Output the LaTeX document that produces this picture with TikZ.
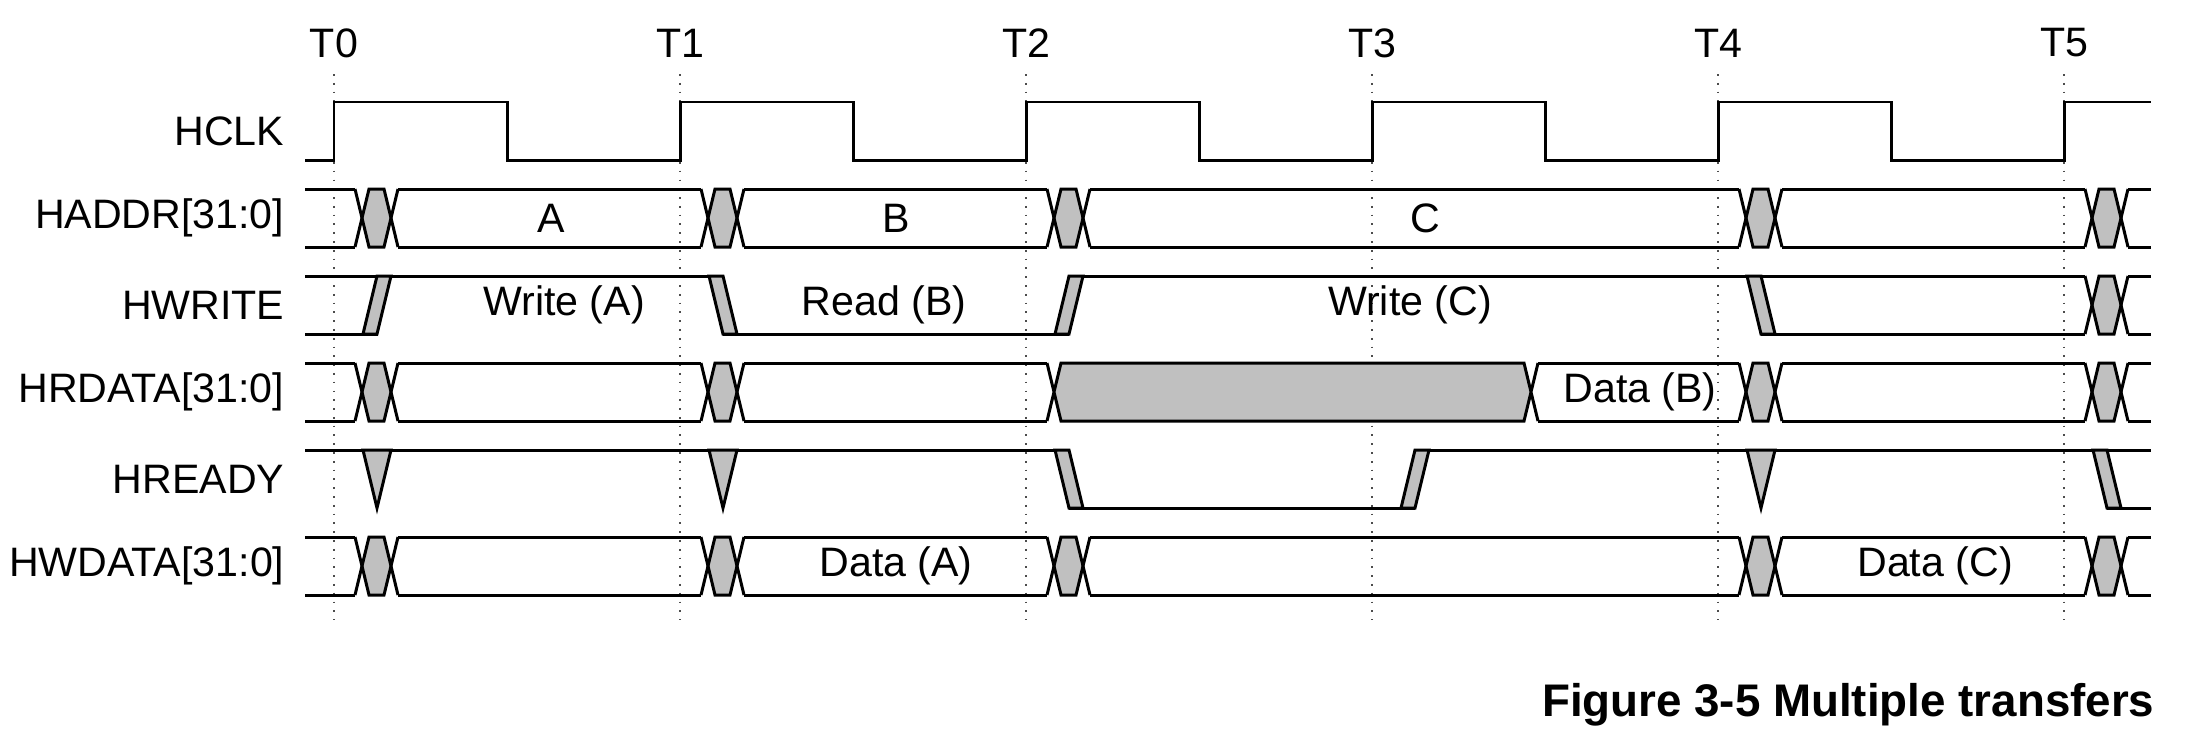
\documentclass[tikz,border=0pt]{standalone}
\usepackage{fontspec}
\setmainfont{Liberation Sans}
\definecolor{gr}{HTML}{C0C0C0}
% bus X transition at time #1, row top #2
\newcommand\tdX[2]{%
 \fill[gr] ({#1+28},{#2+29})--({#1+35},#2)--({#1+50},#2)--({#1+57},{#2+29})--({#1+50},{#2+58})--({#1+35},{#2+58})--cycle;
 \draw[sig] ({#1+21},#2)--({#1+35},{#2+58})--({#1+50},{#2+58})--({#1+64},#2);
 \draw[sig] ({#1+21},{#2+58})--({#1+35},#2)--({#1+50},#2)--({#1+64},{#2+58});}
% bus segment from #1 to #2, row top #3
\newcommand\tdB[3]{\draw[sig] (#1,#3)--(#2,#3) (#1,{#3+58})--(#2,{#3+58});}
% rising / falling slope, triangle
\newcommand\tdR[2]{\filldraw[sig,fill=gr] ({#1+29},{#2+58})--({#1+43},{#2+58})--({#1+57},#2)--({#1+43},#2)--cycle;}
\newcommand\tdF[2]{\filldraw[sig,fill=gr] ({#1+29},#2)--({#1+43},#2)--({#1+57},{#2+58})--({#1+43},{#2+58})--cycle;}
\newcommand\tdV[2]{\filldraw[sig,fill=gr] ({#1+29},#2)--({#1+57},#2)--({#1+43},{#2+58})--cycle;}
\begin{document}
\begin{tikzpicture}[x=0.01cm,y=-0.01cm,
 sig/.style={line width=0.85pt,line join=miter},
 lab/.style={font=\fontsize{11.7}{13}\selectfont,inner sep=0pt},
 grid/.style={dotted,line width=0.5pt,black!70}]
\useasboundingbox (0,0) rectangle (2203,730);
% time marks
\foreach \t/\n in {334/T0,680/T1,1026/T2,1372/T3,1718/T4,2064/T5}{
 \node[lab] (\n) at (\t,43) {\n};
 \draw[grid] (\t,74)--(\t,620);}
% row labels
\node[lab,anchor=east] (lclk) at (285,131) {HCLK};
\node[lab,anchor=east] (laddr) at (285,218) {HADDR[31:0]};
\node[lab,anchor=east] (lwrite) at (285,305) {HWRITE};
\node[lab,anchor=east] (lrdata) at (285,392) {HRDATA[31:0]};
\node[lab,anchor=east] (lready) at (285,479) {HREADY};
\node[lab,anchor=east] (lwdata) at (285,566) {HWDATA[31:0]};
% HCLK
\draw[sig] (305,160) \foreach \t in {334,680,1026,1372,1718}{--(\t,160)--(\t,102)--({\t+173},102)--({\t+173},160)} --(2064,160)--(2064,102)--(2151,102);
% HADDR
\tdB{305}{355}{189}\tdX{334}{189}\tdB{398}{701}{189}\tdX{680}{189}\tdB{744}{1047}{189}\tdX{1026}{189}
\tdB{1090}{1739}{189}\tdX{1718}{189}\tdB{1782}{2085}{189}\tdX{2064}{189}\tdB{2128}{2151}{189}
\node[lab] (a) at (551,218) {A};
\node[lab] (b) at (896,218) {B};
\node[lab] (c) at (1425,218) {C};
% HWRITE
\draw[sig] (305,276)--(723,276) (305,334)--(378,334) (723,334)--(1069,334) (1069,276)--(2085,276) (1761,334)--(2085,334);
\tdR{334}{276}\tdF{680}{276}\tdR{1026}{276}\tdF{1718}{276}
\tdX{2064}{276}\tdB{2128}{2151}{276}
\node[lab] (wa) at (564,305) {Write (A)};
\node[lab] (rb) at (884,305) {Read (B)};
\node[lab] (wc) at (1410,305) {Write (C)};
% HRDATA
\tdB{305}{355}{363}\tdX{334}{363}\tdB{398}{701}{363}\tdX{680}{363}\tdB{744}{1047}{363}
\fill[gr] (1054,392)--(1061,363)--(1524,363)--(1531,392)--(1524,421)--(1061,421)--cycle;
\draw[sig] (1047,363)--(1061,421)--(1524,421)--(1538,363) (1047,421)--(1061,363)--(1524,363)--(1538,421);
\tdB{1538}{1739}{363}\tdX{1718}{363}\tdB{1782}{2085}{363}\tdX{2064}{363}\tdB{2128}{2151}{363}
\node[lab] (db) at (1640,392) {Data (B)};
% HREADY
\draw[sig] (305,450)--(1069,450) (1069,508)--(1415,508) (1415,450)--(2151,450) (2107,508)--(2151,508);
\tdV{334}{450}\tdV{680}{450}\tdF{1026}{450}\tdR{1372}{450}\tdV{1718}{450}\tdF{2064}{450}
% HWDATA
\tdB{305}{355}{537}\tdX{334}{537}\tdB{398}{701}{537}\tdX{680}{537}\tdB{744}{1047}{537}\tdX{1026}{537}
\tdB{1090}{1739}{537}\tdX{1718}{537}\tdB{1782}{2085}{537}\tdX{2064}{537}\tdB{2128}{2151}{537}
\node[lab] (da) at (896,566) {Data (A)};
\node[lab] (dc) at (1935,566) {Data (C)};
% caption
\node[inner sep=0pt,anchor=east,font=\fontsize{13}{15}\selectfont\bfseries] (cap) at (2155,705) {Figure 3-5 Multiple transfers};
\end{tikzpicture}
\end{document}
